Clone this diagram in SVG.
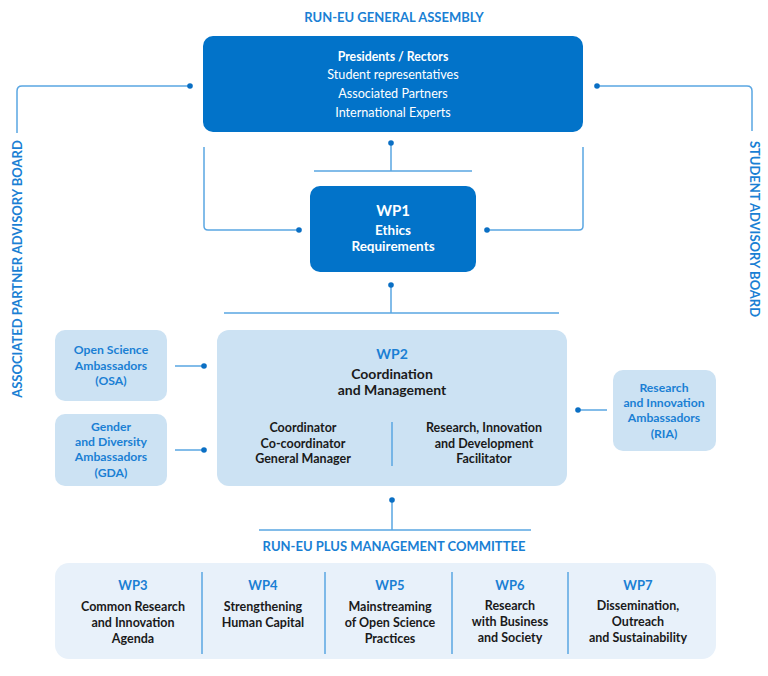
<svg xmlns="http://www.w3.org/2000/svg" width="768" height="676" viewBox="0 0 768 676">
<style>
text{font-family:Lato,"Open Sans","Liberation Sans",sans-serif;text-anchor:middle;}
.ttl{font-size:13px;font-weight:bold;fill:#1a7fd4;}
.w{fill:#fff;font-size:12.6px;}
.wb{fill:#fff;font-size:12.3px;font-weight:bold;}
.wp{fill:#1a7fd4;font-size:13px;font-weight:bold;}
.bk{fill:#1a1a1a;font-size:12.5px;font-weight:bold;}
.bl{fill:#1a7fd4;font-size:12.2px;font-weight:bold;}
.ln{fill:none;stroke:#5aa6e2;stroke-width:1.5;}
.dot{fill:#0a6fc4;}
.dark{fill:#0273c9;}
.light{fill:#cce2f3;}
.pale{fill:#e8f1fa;}
</style>
<rect width="768" height="676" fill="#fff"/>
<g id="connectors">
<path class="ln" d="M190 86 H22 Q17 86 17 91 V133"/>
<path class="ln" d="M597 86 H747 Q752 86 752 91 V131"/>
<path class="ln" d="M391 143 V171 M314 171 H472"/>
<path class="ln" d="M204 147 V226 Q204 230 208 230 H299"/>
<path class="ln" d="M583 147 V226 Q583 230 579 230 H487"/>
<path class="ln" d="M391 285 V313 M224 313 H559"/>
<path class="ln" d="M175 366 H204 M175 450 H204"/>
<path class="ln" d="M578 410 H607"/>
<path class="ln" d="M392 500 V530 M259 530 H531"/>
<circle class="dot" cx="190" cy="86" r="2.8"/>
<circle class="dot" cx="597" cy="86" r="2.8"/>
<circle class="dot" cx="391" cy="143" r="2.8"/>
<circle class="dot" cx="299" cy="230" r="2.8"/>
<circle class="dot" cx="487" cy="230" r="2.8"/>
<circle class="dot" cx="391" cy="285" r="2.8"/>
<circle class="dot" cx="204" cy="366" r="2.8"/>
<circle class="dot" cx="204" cy="450" r="2.8"/>
<circle class="dot" cx="578" cy="410" r="2.8"/>
<circle class="dot" cx="392" cy="500" r="2.8"/>
</g>
<g id="general-assembly">
<text class="ttl" x="394" y="22">RUN-EU GENERAL ASSEMBLY</text>
<rect class="dark" x="203" y="36" width="380" height="96" rx="10"/>
<text class="wb" x="393" y="61">Presidents / Rectors</text>
<text class="w" x="393" y="79">Student representatives</text>
<text class="w" x="393" y="98">Associated Partners</text>
<text class="w" x="393" y="117">International Experts</text>
</g>
<g id="apab">
<text class="ttl" transform="translate(22,269) rotate(-90)">ASSOCIATED PARTNER ADVISORY BOARD</text>
</g>
<g id="sab">
<text class="ttl" transform="translate(750,229) rotate(90)">STUDENT ADVISORY BOARD</text>
</g>
<g id="wp1">
<rect class="dark" x="310" y="186" width="166" height="86" rx="10"/>
<text class="wb" x="393" y="216" style="font-size:15px">WP1</text>
<text class="wb" x="393" y="235" style="font-size:13.5px">Ethics</text>
<text class="wb" x="393" y="251" style="font-size:13.5px">Requirements</text>
</g>
<g id="wp2">
<rect class="light" x="217" y="330" width="350" height="156" rx="12"/>
<text class="wp" x="392" y="359" style="font-size:14px">WP2</text>
<text class="bk" x="392" y="379" style="font-size:14px">Coordination</text>
<text class="bk" x="392" y="395" style="font-size:14px">and Management</text>
<text class="bk" x="303" y="432">Coordinator</text>
<text class="bk" x="303" y="448">Co-coordinator</text>
<text class="bk" x="303" y="463">General Manager</text>
<line class="ln" x1="392" y1="422" x2="392" y2="466"/>
<text class="bk" x="484" y="432">Research, Innovation</text>
<text class="bk" x="484" y="448">and Development</text>
<text class="bk" x="484" y="463">Facilitator</text>
</g>
<g id="osa">
<rect class="light" x="55" y="330" width="112" height="71" rx="10"/>
<text class="bl" x="111" y="354">Open Science</text>
<text class="bl" x="111" y="370">Ambassadors</text>
<text class="bl" x="111" y="385">(OSA)</text>
</g>
<g id="gda">
<rect class="light" x="55" y="414" width="112" height="72" rx="10"/>
<text class="bl" x="111" y="431">Gender</text>
<text class="bl" x="111" y="446">and Diversity</text>
<text class="bl" x="111" y="461">Ambassadors</text>
<text class="bl" x="111" y="477">(GDA)</text>
</g>
<g id="ria">
<rect class="light" x="613" y="370" width="103" height="81" rx="10"/>
<text class="bl" x="664" y="392">Research</text>
<text class="bl" x="664" y="407">and Innovation</text>
<text class="bl" x="664" y="422">Ambassadors</text>
<text class="bl" x="664" y="438">(RIA)</text>
</g>
<g id="management-committee">
<text class="ttl" x="394" y="551">RUN-EU PLUS MANAGEMENT COMMITTEE</text>
<rect class="pale" x="55" y="563" width="661" height="96" rx="14"/>
<line class="ln" x1="202" y1="572" x2="202" y2="654"/>
<line class="ln" x1="325" y1="572" x2="325" y2="654"/>
<line class="ln" x1="452" y1="572" x2="452" y2="654"/>
<line class="ln" x1="568" y1="572" x2="568" y2="654"/>
</g>
<g id="wp3">
<text class="wp" x="133" y="590">WP3</text>
<text class="bk" x="133" y="611">Common Research</text>
<text class="bk" x="133" y="627">and Innovation</text>
<text class="bk" x="133" y="643">Agenda</text>
</g>
<g id="wp4">
<text class="wp" x="263" y="590">WP4</text>
<text class="bk" x="263" y="611">Strengthening</text>
<text class="bk" x="263" y="627">Human Capital</text>
</g>
<g id="wp5">
<text class="wp" x="390" y="590">WP5</text>
<text class="bk" x="390" y="611">Mainstreaming</text>
<text class="bk" x="390" y="627">of Open Science</text>
<text class="bk" x="390" y="643">Practices</text>
</g>
<g id="wp6">
<text class="wp" x="510" y="590">WP6</text>
<text class="bk" x="510" y="610">Research</text>
<text class="bk" x="510" y="626">with Business</text>
<text class="bk" x="510" y="642">and Society</text>
</g>
<g id="wp7">
<text class="wp" x="638" y="590">WP7</text>
<text class="bk" x="638" y="610">Dissemination,</text>
<text class="bk" x="638" y="626">Outreach</text>
<text class="bk" x="638" y="642">and Sustainability</text>
</g>
</svg>
